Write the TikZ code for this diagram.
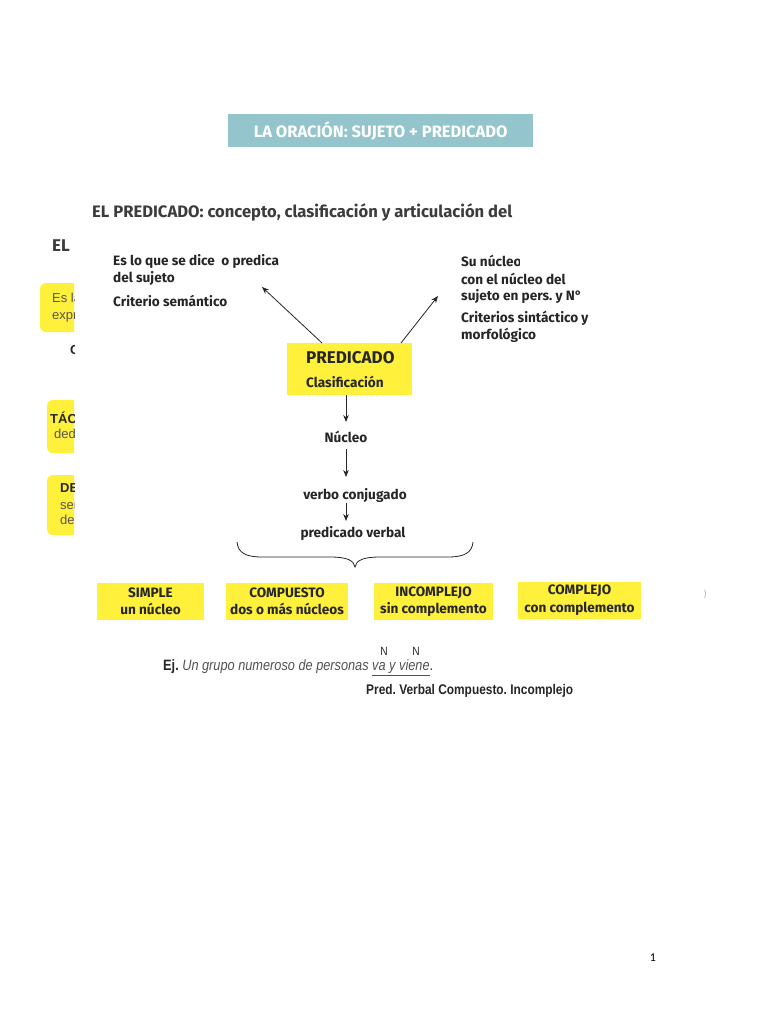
\documentclass[tikz,border=0pt]{standalone}
\usepackage{fontspec}
\setmainfont{Fira Sans}
\newfontfamily\ejfont{Liberation Sans}
\newfontfamily\condfont[FakeStretch=0.85]{Liberation Sans}
\newfontfamily\numfont{Carlito}
\usetikzlibrary{arrows.meta}
\definecolor{titleteal}{HTML}{95C5CC}
\definecolor{hl}{HTML}{FFF03C}
\definecolor{ink}{HTML}{262626}
\definecolor{fragink}{HTML}{555555}
\frenchspacing
\begin{document}
\begin{tikzpicture}[x=1pt,y=-1pt,
  every node/.style={inner sep=0pt, text=ink},
  txt/.style={anchor=west, font=\fontsize{13.6}{16}\selectfont\bfseries},
  ctxt/.style={font=\fontsize{13.6}{16}\selectfont\bfseries},
  hlbox/.style={fill=hl, inner sep=0pt},
  boxtxt/.style={font=\fontsize{13.6}{17.5}\selectfont\bfseries, align=center},
  arr/.style={-{Stealth[length=7pt,width=5.5pt]}, line width=0.8pt, draw=ink},
  fragtxt/.style={anchor=west, font=\ejfont\fontsize{13}{15}\selectfont, text=fragink},
  fragbold/.style={anchor=west, font=\ejfont\fontsize{13}{15}\selectfont\bfseries, text=ink}]
\useasboundingbox (0,0) rectangle (768,1024);
\fill[white] (0,0) rectangle (768,1024);

% title bar
\node[fill=titleteal, minimum width=305pt, minimum height=33pt, anchor=north west,
      font=\fontsize{16.5}{18}\selectfont\bfseries, text=white] (title) at (228,114)
      {LA ORACIÓN: SUJETO + PREDICADO};

% heading
\node[anchor=west, font=\fontsize{16.6}{19}\selectfont\bfseries, text=ink!90] (head) at (92,212)
  {EL PREDICADO: concepto, clasificación y articulación del};

% fragments of the underlying page (left)
\node[anchor=west, font=\fontsize{17}{19}\selectfont\bfseries, text=ink!90] (el) at (52,246) {EL};
\begin{scope}
  \clip (0,270) rectangle (74,560);
  \fill[hl, rounded corners=6pt] (40,283) rectangle (100,332);
  \node[fragtxt] (f1a) at (52,298) {Es la};
  \node[fragtxt] (f1b) at (52,316) {expresión};
  \node[fragbold] (f1c) at (70,350) {C};
  \fill[hl, rounded corners=6pt] (47,400) rectangle (100,453);
  \node[fragbold] (f2a) at (50,418) {TÁCTICO};
  \node[fragtxt] (f2b) at (54,434) {deducido};
  \fill[hl, rounded corners=6pt] (47,475) rectangle (100,535);
  \node[fragbold] (f3a) at (60,488) {DEF};
  \node[fragtxt] (f3b) at (60,505) {semántico};
  \node[fragtxt] (f3c) at (60,521) {designa};
\end{scope}
\node[text=black!30, font=\ejfont\fontsize{9}{10}\selectfont] (frag4) at (705,594) {)};

% top left text
\node[txt] (sem1) at (113,261) {Es lo que se dice \ o predica};
\node[txt] (sem2) at (113,278) {del sujeto};
\node[txt] (sem3) at (113,301) {Criterio semántico};

% top right text
\begin{scope}
  \clip (440,240) rectangle (519,270);
  \node[txt] (sin1) at (461,261) {Su núcleo concuerda};
\end{scope}
\node[txt] (sin2) at (461,279) {con el núcleo del};
\node[txt] (sin3) at (461,296) {sujeto en pers. y N°};
\node[txt] (sin4) at (461,318) {Criterios sintáctico y};
\node[txt] (sin5) at (461,335) {morfológico};

% PREDICADO box
\node[hlbox, minimum width=125pt, minimum height=52pt, anchor=north west] (pred) at (287,343) {};
\node[anchor=west, font=\fontsize{17}{19}\selectfont\bfseries] (predt) at (306,358) {PREDICADO};
\node[txt] (clas) at (306,382) {Clasificación};

\coordinate (la) at (262,287);
\coordinate (ra) at (438,296);
\draw[arr] (322,343) -- (la);
\draw[arr] (401,343) -- (ra);

% vertical chain
\node[ctxt] (nuc) at (346,437) {Núcleo};
\node[ctxt] (verb) at (355,495) {verbo conjugado};
\node[ctxt] (pv) at (353,533) {predicado verbal};
\draw[arr] (346,395) -- (346,422);
\draw[arr] (346,449) -- (346,477);
\draw[arr] (346,503) -- (346,521);

% brace
\coordinate (bl) at (237,542);
\coordinate (br) at (473,542);
\coordinate (btip) at (355,567);
\draw[line width=0.8pt, draw=ink]
  (bl) .. controls (238,553) and (246,557) .. (262,557)
  -- (330,557) .. controls (346,557) and (354,560) .. (btip)
  .. controls (356,560) and (364,557) .. (380,557)
  -- (448,557) .. controls (464,557) and (472,553) .. (br);

% classification boxes
\node[hlbox, boxtxt, minimum width=107pt, minimum height=37pt] (simple) at (150.5,601.5) {SIMPLE\\un núcleo};
\node[hlbox, boxtxt, minimum width=122pt, minimum height=37pt] (comp) at (287,601.5) {COMPUESTO\\dos o más núcleos};
\node[hlbox, boxtxt, minimum width=119pt, minimum height=37pt] (incomp) at (433.5,601.5) {INCOMPLEJO\\sin complemento};
\node[hlbox, boxtxt, minimum width=123pt, minimum height=37pt] (complejo) at (579.5,600) {COMPLEJO\\con complemento};

% example
\node[font=\condfont\fontsize{12}{12}\selectfont] (n1) at (384,651) {N};
\node[font=\condfont\fontsize{12}{12}\selectfont] (n2) at (416,651) {N};
\node[anchor=west, font=\condfont\fontsize{15}{17}\selectfont] (ej) at (163,668)
  {\textbf{Ej.} \textit{\color{ink!80}Un grupo numeroso de personas \underline{va y viene}}.};
\node[anchor=west, font=\condfont\fontsize{14}{16}\selectfont\bfseries] (res) at (366,691)
  {Pred. Verbal Compuesto. Incomplejo};

% page number
\node[font=\numfont\fontsize{12}{14}\selectfont, text=black] (page) at (653,958) {1};
\end{tikzpicture}
\end{document}
